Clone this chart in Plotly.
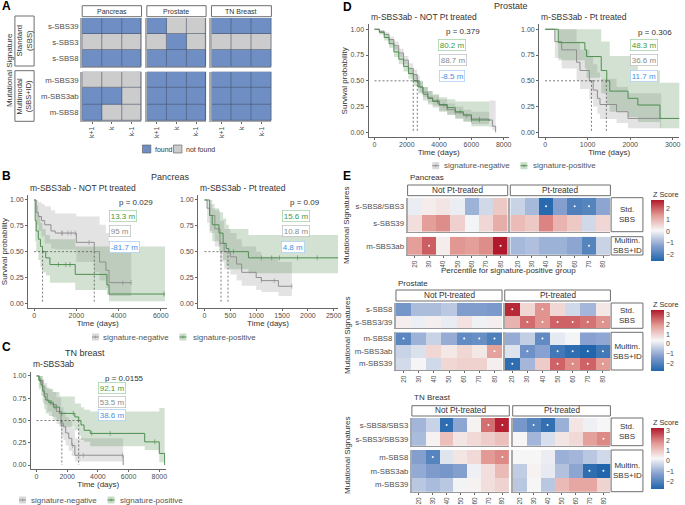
import plotly.graph_objects as go

W, H = 685, 505
FONT = "Liberation Sans"

# ---------- Panel A data ----------
A_COLS = ["k+1", "k", "k-1"]
A_STD_ROWS = ["s-SBS39", "s-SBS3", "s-SBS8"]
A_MM_ROWS = ["m-SBS39", "m-SBS3ab", "m-SBS8"]
A_PAN_STD = [[1, 1, 1], [0, 0, 0], [1, 1, 1]]
A_PRO_STD = [[1, 0, 0], [0, 1, 0], [1, 1, 1]]
A_TNB_STD = [[1, 1, 1], [0, 0, 0], [1, 1, 1]]
A_PAN_MM = [[0, 0, 0], [1, 1, 0], [1, 0, 0]]
A_PRO_MM = [[1, 1, 1], [1, 1, 1], [1, 1, 1]]
A_TNB_MM = [[1, 1, 1], [1, 1, 1], [1, 1, 1]]

# ---------- Survival data ----------
BL_NEG_T = [0, 100, 200, 350, 500, 800, 1000, 2000, 2850, 3100, 3400, 3550, 4600]
BL_NEG_S = [1, .88, .84, .80, .76, .70, .68, .59, .50, .40, .32, .20, .20]
BL_NEG_U = [1, 1, .98, .96, .94, .90, .87, .84, .84, .76, .68, .55, .55]
BL_NEG_L = [1, .76, .70, .65, .58, .53, .52, .40, .30, .22, .15, .07, .05]
BL_NEG_C = [1300, 1350, 1600, 1750, 1950, 2600, 4200, 4600]
BL_POS_T = [0, 50, 100, 200, 300, 400, 550, 750, 1950, 3450, 3550, 6200]
BL_POS_S = [1, .80, .70, .62, .55, .50, .44, .375, .28, .18, .09, .09]
BL_POS_U = [1, 1, .95, .85, .78, .72, .66, .62, .55, .55, .55, .55]
BL_POS_L = [1, .60, .50, .42, .35, .30, .27, .20, .13, .08, .02, .02]
BL_POS_C = [1150, 1500, 1700, 6150]
BL_MED = [400, 2850]

BR_NEG_T = [0, 50, 100, 200, 300, 380, 500, 620, 720, 1000, 1100, 1430, 1690]
BR_NEG_S = [1, .92, .85, .72, .58, .50, .45, .38, .30, .25, .22, .165, .165]
BR_NEG_U = [1, 1, .96, .90, .80, .72, .68, .62, .55, .50, .45, .40, .40]
BR_NEG_L = [1, .78, .68, .55, .40, .33, .28, .22, .17, .13, .11, .07, .07]
BR_NEG_C = [300, 1100, 1350, 1690]
BR_POS_T = [0, 100, 150, 280, 360, 420, 470, 850, 2700]
BR_POS_S = [1, .85, .76, .68, .58, .53, .50, .44, .44]
BR_POS_U = [1, 1, .92, .88, .82, .76, .72, .66, .66]
BR_POS_L = [1, .70, .60, .50, .42, .36, .33, .29, .29]
BR_POS_C = [560, 1100, 1300, 1450, 1800, 2180]
BR_MED = [320, 455]

C_NEG_T = [0, 200, 400, 500, 700, 1000, 1300, 1600, 1750, 1900, 2100, 2300, 2500, 5600, 5650]
C_NEG_S = [1, .95, .88, .80, .72, .68, .60, .47, .43, .36, .30, .22, .11, .11, 0]
C_NEG_U = [1, 1, .97, .92, .86, .82, .76, .65, .60, .54, .50, .42, .30, .30, .30]
C_NEG_L = [1, .88, .78, .68, .60, .54, .46, .32, .28, .22, .16, .10, .04, .04, .04]
C_NEG_C = [1600, 2350, 3050, 5600]
C_POS_T = [0, 150, 300, 400, 500, 600, 800, 1100, 1500, 2500, 2750, 2900, 3100, 3500, 7050, 8000, 8350]
C_POS_S = [1, .95, .90, .83, .77, .73, .70, .65, .58, .54, .50, .45, .39, .355, .26, .13, 0]
C_POS_U = [1, 1, 1, .95, .90, .87, .85, .82, .77, .69, .69, .65, .62, .60, .60, .64, .64]
C_POS_L = [1, .85, .78, .70, .63, .58, .55, .50, .43, .39, .33, .28, .26, .21, .17, .03, .03]
C_POS_C = [250, 900, 1200, 1650, 2400, 3600, 4800, 7700]
C_MED = [1650, 2750]

DL_NEG_T = [0, 300, 600, 900, 1200, 1500, 1800, 2100, 2400, 2640, 2800, 3000, 3300, 3600, 4000, 4500, 5000, 5500, 6000, 7100, 7300, 7500]
DL_NEG_S = [1, .98, .95, .90, .84, .77, .70, .62, .56, .50, .44, .39, .34, .31, .26, .22, .19, .16, .13, .12, .06, 0]
DL_NEG_U = [1, .99, .97, .93, .88, .81, .74, .67, .61, .55, .49, .44, .40, .36, .32, .28, .25, .22, .20, .31, .31, .31]
DL_NEG_L = [1, .97, .93, .87, .80, .73, .66, .57, .51, .45, .39, .34, .29, .26, .21, .17, .14, .11, .08, .05, .02, 0]
DL_NEG_C = [4300, 5000, 5700, 6500]
DL_POS_T = [0, 300, 600, 900, 1200, 1500, 1800, 2100, 2400, 2700, 3000, 3300, 3600, 4000, 4500, 5000, 5500, 6000, 7100]
DL_POS_S = [1, .97, .92, .86, .78, .71, .64, .57, .50, .44, .37, .33, .30, .27, .24, .20, .17, .12, .11]
DL_POS_U = [1, .98, .95, .90, .83, .76, .69, .62, .56, .50, .44, .40, .37, .34, .32, .30, .30, .30, .30]
DL_POS_L = [1, .95, .89, .82, .73, .66, .59, .52, .45, .38, .31, .27, .24, .20, .17, .13, .10, .06, .05]
DL_POS_C = [3900, 4500, 5300, 6000, 6500]
DL_MED = [2400, 2650]

DR_NEG_T = [0, 230, 390, 740, 820, 1040, 1130, 1230, 1290, 1680, 1950, 2730]
DR_NEG_S = [1, .88, .80, .68, .60, .50, .41, .33, .27, .20, .135, .135]
DR_NEG_U = [1, 1, 1, .88, .80, .74, .66, .58, .52, .44, .38, .38]
DR_NEG_L = [1, .72, .62, .50, .42, .32, .25, .18, .13, .09, .04, .04]
DR_NEG_C = []
DR_POS_T = [0, 310, 935, 975, 1320, 1450, 1520, 1950, 2180, 2700, 3200]
DR_POS_S = [1, .87, .80, .735, .60, .50, .40, .33, .265, .135, .135]
DR_POS_U = [1, 1, 1, 1, .88, .88, .74, .74, .60, .48, .48]
DR_POS_L = [1, .70, .62, .53, .38, .27, .20, .15, .10, .04, .04]
DR_POS_C = []
DR_MED = [1090, 1440]

# ---------- Panel E data ----------
PCT = [20, 30, 40, 50, 60, 70, 80]
GROUP_NOT = "Not Pt-treated"
GROUP_PT = "Pt-treated"

PAN_STD_ROWS = ["s-SBS8/SBS3", "s-SBS39"]
PAN_MM_ROWS = ["m-SBS3ab"]
PAN_NOT_STD = [[-.1, .2, .3, -.1, -1.0, -.4, .7], [.4, 1.3, 1.5, .6, 0, .5, 1.1]]
PAN_PT_STD = [[-.5, -.9, -2.5, -1.3, -2.0, -1.9, -1.2], [.9, .7, 1.6, 1.0, .7, -.4, .5]]
PAN_NOT_MM = [[1.3, 2.0, .2, 1.4, 1.3, 1.5, 2.7]]
PAN_PT_MM = [[-.9, -.8, -1.0, -1.0, -1.2, -1.9, -.5]]
PAN_NOT_STD_SIG = [[], []]
PAN_PT_STD_SIG = [[40, 60, 70], []]
PAN_NOT_MM_SIG = [[30, 80]]
PAN_PT_MM_SIG = [[70]]

PRO_STD_ROWS = ["s-SBS8", "s-SBS3/39"]
PRO_MM_ROWS = ["m-SBS8", "m-SBS3ab", "m-SBS39"]
PRO_NOT_STD = [[-1.5, -.7, -.7, -.5, -1.3, -1.3, -1.4], [.5, .2, .5, .15, .7, .25, .5]]
PRO_PT_STD = [[3.3, .9, 2.0, .9, -.2, -.8, .6], [1.5, 2.5, 2.0, 2.6, 2.6, 2.4, 2.0]]
PRO_NOT_MM = [[-1.9, -.9, -.3, -1.0, -1.8, -1.7, -2.1], [-.3, -.05, .9, .6, .9, .6, 1.8], [-.15, .4, -.2, .9, 1.0, 1.0, .5]]
PRO_PT_MM = [[-1.0, -.4, -1.8, .1, .3, -1.2, -1.1], [0, -1.6, -1.2, -2.3, -2.6, -2.8, -2.3], [-2.6, -.8, 1.1, 2.6, 2.1, 2.6, 1.9]]
PRO_NOT_STD_SIG = [[], []]
PRO_PT_STD_SIG = [[20, 40], [30, 40, 50, 60, 70, 80]]
PRO_NOT_MM_SIG = [[20, 60, 70, 80], [80], []]
PRO_PT_MM_SIG = [[40], [30, 50, 60, 70, 80], [20, 50, 60, 70, 80]]

TNB_STD_ROWS = ["s-SBS8/SBS3", "s-SBS3/SBS39"]
TNB_MM_ROWS = ["m-SBS8", "m-SBS3ab", "m-SBS39"]
TNB_NOT_STD = [[-.9, -.4, -2.6, -1.2, .3, 2.2, 3.1], [-.8, .3, 1.1, .5, .7, .9, 1.1]]
TNB_PT_STD = [[-1.5, -2.0, -2.5, -1.0, .5, .1, .2], [.25, -.9, -.2, .5, .7, 1.6, 1.9]]
TNB_NOT_MM = [[-1.3, -2.0, -.1, .5, .7, 1.7, 1.9], [-1.1, -1.4, -1.5, -1.3, .1, .6, 1.2], [-.6, -.8, -.6, .15, .3, .6, .8]]
TNB_PT_MM = [[.2, .2, .05, -1.0, -.9, -.6, -.3], [-.5, .3, 0, -.7, -1.2, -2.6, -2.9], [-.6, .2, -.6, 1.2, 1.5, 1.5, .8]]
TNB_NOT_STD_SIG = [[40, 70, 80], []]
TNB_PT_STD_SIG = [[30, 40], [80]]
TNB_NOT_MM_SIG = [[30, 80], [], []]
TNB_PT_MM_SIG = [[], [70, 80], []]

# ---------- Styles ----------
INK = "#333333"
TICK = "#4d4d4d"
AXIS = "#666666"
BOX = "#6e6e6e"
FOUND = "#6f8fc4"
NOTFOUND = "#cccccc"
GRIDDARK = "#47536b"
NEG_LINE = "#8f8f8f"
POS_LINE = "#4f8f50"
NEG_BAND = "rgba(140,140,140,0.24)"
POS_BAND = "rgba(80,140,80,0.26)"
ZSCALE = [[0, "#2166ac"], [.25, "#86a0cf"], [.5, "#f7f7f7"], [.75, "#e39a94"], [1, "#b2182b"]]

fig = go.Figure()
layout = {}
shapes, notes = [], []
axis_n = [0]


def px(x):
    return x / W


def py(y):
    return 1 - y / H


def text(x, y, s, size=7, color=INK, anchor="center", angle=0, **kw):
    notes.append(dict(xref="paper", yref="paper", x=px(x), y=py(y), text=s, showarrow=False,
                      xanchor=anchor, yanchor="middle", textangle=angle,
                      font=dict(size=size, color=color, family=FONT), **kw))


def box(x0, y0, x1, y1, fill="white", line=BOX, width=1, layer="above"):
    shapes.append(dict(type="rect", xref="paper", yref="paper", x0=px(x0), x1=px(x1), y0=py(y0), y1=py(y1),
                       fillcolor=fill, line=dict(color=line, width=width), layer=layer))


def strip(x0, y0, x1, y1, s, size=7, angle=0):
    box(x0, y0, x1, y1)
    text((x0 + x1) / 2, (y0 + y1) / 2, s, size=size, angle=angle)


def new_axes(x0, y0, x1, y1, xkw, ykw):
    axis_n[0] += 1
    n = axis_n[0]
    sx = "" if n == 1 else str(n)
    layout["xaxis" + sx] = dict(domain=[px(x0), px(x1)], anchor="y" + sx, **xkw)
    layout["yaxis" + sx] = dict(domain=[py(y1), py(y0)], anchor="x" + sx, **ykw)
    return "x" + sx, "y" + sx


def tickfont(size=7, color=TICK):
    return dict(size=size, color=color, family=FONT)


# ---------- Panel A ----------
def found_panel(x0, y0, x1, y1, rows, vals, show_y, show_x):
    box(x0, y0, x1, y1, fill=GRIDDARK, line=GRIDDARK, width=0, layer="below")
    xa, ya = new_axes(
        x0, y0, x1, y1,
        dict(type="category", categoryorder="array", categoryarray=A_COLS, range=[-.5, 2.5],
             showticklabels=show_x, ticks="outside" if show_x else "", ticklen=2, tickangle=-90,
             tickcolor=AXIS, tickfont=tickfont(7), showline=True, linecolor="#aaaaaa", showgrid=False),
        dict(type="category", categoryorder="array", categoryarray=rows, range=[2.5, -.5],
             showticklabels=show_y, ticks="", tickfont=tickfont(7.8), showline=True,
             linecolor="#aaaaaa", linewidth=2, showgrid=False))
    fig.add_trace(go.Heatmap(x=A_COLS, y=rows, z=vals, xaxis=xa, yaxis=ya, zmin=0, zmax=1, showscale=False,
                             colorscale=[[0, NOTFOUND], [1, FOUND]], xgap=.6, ygap=.6))


A_X = [(82.7, 142.3), (147.7, 207.3), (212.7, 273)]
for (xl, xr), s, std, mm in zip(A_X, ["Pancreas", "Prostate", "TN Breast"],
                                [A_PAN_STD, A_PRO_STD, A_TNB_STD], [A_PAN_MM, A_PRO_MM, A_TNB_MM]):
    first = xl < 100
    found_panel(xl, 18, xr, 66.7, A_STD_ROWS, std, first, False)
    found_panel(xl, 71.7, xr, 120.7, A_MM_ROWS, mm, first, True)
    strip(xl, 5.7, xr, 16.7, s, 7)
text(9, 70, "Mutational Signature", 8, angle=-90)
strip(15, 16, 34.3, 66, "Standard<br>(SBS)", 7.8, angle=-90)
strip(15, 70.7, 34.3, 121.3, "Multimodal<br>(SBS+ID)", 7.5, angle=-90)
box(143.3, 145, 151.7, 153, fill=FOUND, line="#555555", width=.6)
text(154, 149, "found", 7, anchor="left")
box(174.5, 145, 183, 153, fill=NOTFOUND, line="#555555", width=.6)
text(185, 149, "not found", 7, anchor="left")


# ---------- Survival panels ----------
def curve_at(ts, ss, t):
    v = ss[0]
    for a, b in zip(ts, ss):
        if a <= t:
            v = b
    return v


def km(rect, xrange, xticks, neg, pos, med, ytitle):
    x0, y0, x1, y1 = rect
    xa, ya = new_axes(
        x0, y0, x1, y1,
        dict(range=xrange, tickvals=xticks, ticks="outside", ticklen=2, tickcolor=AXIS, tickfont=tickfont(),
             ticklabelstandoff=-2, showline=True, linecolor=AXIS, linewidth=1, showgrid=False, zeroline=False,
             title=dict(text="Time (days)", font=tickfont(8, INK), standoff=0)),
        dict(range=[-.048, 1.048], tickvals=[0, .25, .5, .75, 1], tickformat=".2f", ticks="outside", ticklen=2,
             tickcolor=AXIS, tickfont=tickfont(), showline=True, linecolor=AXIS, linewidth=1, showgrid=False,
             zeroline=False, title=dict(text=ytitle, font=tickfont(8, INK), standoff=1)))
    for (t, s, u, l, c), lc, bc in ((neg, NEG_LINE, NEG_BAND), (pos, POS_LINE, POS_BAND)):
        fig.add_trace(go.Scatter(x=t, y=u, mode="lines", line=dict(width=0, shape="hv"), xaxis=xa, yaxis=ya,
                                 showlegend=False, hoverinfo="skip"))
        fig.add_trace(go.Scatter(x=t, y=l, mode="lines", line=dict(width=0, shape="hv"), fill="tonexty",
                                 fillcolor=bc, xaxis=xa, yaxis=ya, showlegend=False, hoverinfo="skip"))
    for (t, s, u, l, c), lc in ((neg, NEG_LINE), (pos, POS_LINE)):
        fig.add_trace(go.Scatter(x=t, y=s, mode="lines", line=dict(width=1, shape="hv", color=lc),
                                 xaxis=xa, yaxis=ya, showlegend=False))
        if c:
            fig.add_trace(go.Scatter(x=c, y=[curve_at(t, s, v) for v in c], mode="markers",
                                     marker=dict(symbol="line-ns", size=3.5, line=dict(width=.6, color=lc)),
                                     xaxis=xa, yaxis=ya, showlegend=False))
    m0, m1 = med
    fig.add_trace(go.Scatter(x=[0, m1, None, m0, m0, None, m1, m1], y=[.5, .5, None, .5, 0, None, .5, 0],
                             mode="lines", line=dict(width=.7, color="#444444", dash="2px,2px"),
                             xaxis=xa, yaxis=ya, showlegend=False))


def labels(pxy, pval, boxes):
    text(pxy[0], pxy[1], pval, 8)
    for (x, y, s), col, edge in zip(boxes, ["#3f9a45", "#8a8a8a", "#4b8fdf"], ["#9ccf9f", "#bbbbbb", "#a6ccf2"]):
        text(x, y, s, 8, color=col, bgcolor="white", bordercolor=edge, borderwidth=.7, borderpad=1)


def km_legend(y, xg, xt1, xg2, xt2):
    for xs, col, band in ((xg, NEG_LINE, "#d9d9d9"), (xg2, POS_LINE, "#c8dcc8")):
        box(xs - 3.5, y - 3.5, xs + 3.5, y + 3.5, fill=band, line=band, width=0)
        shapes.append(dict(type="line", xref="paper", yref="paper", x0=px(xs - 3.5), x1=px(xs + 3.5),
                           y0=py(y), y1=py(y), line=dict(color=col, width=1)))
        shapes.append(dict(type="line", xref="paper", yref="paper", x0=px(xs), x1=px(xs),
                           y0=py(y - 1.5), y1=py(y + 1.5), line=dict(color=col, width=.6)))
    text(xt1, y, "signature-negative", 8, color="#555555", anchor="left")
    text(xt2, y, "signature-positive", 8, color="#555555", anchor="left")


km((28.3, 195, 168.3, 308.3), [-283, 6311], [0, 2000, 4000, 6000],
   (BL_NEG_T, BL_NEG_S, BL_NEG_U, BL_NEG_L, BL_NEG_C), (BL_POS_T, BL_POS_S, BL_POS_U, BL_POS_L, BL_POS_C),
   BL_MED, "Survival probability")
km((199.3, 195, 340, 308.3), [-123, 2583], [0, 500, 1000, 1500, 2000, 2500],
   (BR_NEG_T, BR_NEG_S, BR_NEG_U, BR_NEG_L, BR_NEG_C), (BR_POS_T, BR_POS_S, BR_POS_U, BR_POS_L, BR_POS_C),
   BR_MED, "")
km((31, 371.7, 166.7, 469.3), [-370, 8420], [0, 2000, 4000, 6000, 8000],
   (C_NEG_T, C_NEG_S, C_NEG_U, C_NEG_L, C_NEG_C), (C_POS_T, C_POS_S, C_POS_U, C_POS_L, C_POS_C),
   C_MED, "")
km((370.7, 24.3, 511.7, 137.3), [-370, 8310], [0, 2000, 4000, 6000, 8000],
   (DL_NEG_T, DL_NEG_S, DL_NEG_U, DL_NEG_L, DL_NEG_C), (DL_POS_T, DL_POS_S, DL_POS_U, DL_POS_L, DL_POS_C),
   DL_MED, "Survival probability")
km((542.3, 24.3, 683.3, 137.3), [-140, 3155], [0, 1000, 2000, 3000],
   (DR_NEG_T, DR_NEG_S, DR_NEG_U, DR_NEG_L, DR_NEG_C), (DR_POS_T, DR_POS_S, DR_POS_U, DR_POS_L, DR_POS_C),
   DR_MED, "")

labels((137, 202.7), "p = 0.029", [(124, 216, "13.3 m"), (120.7, 231, "95 m"), (125, 246.7, "-81.7 m")])
labels((307, 202.7), "p = 0.09", [(297.7, 216, "15.6 m"), (297.7, 231, "10.8 m"), (295, 247, "4.8 m")])
labels((125.7, 378), "p = 0.0155", [(113, 388, "92.1 m"), (113, 401.7, "53.5 m"), (113, 415, "38.6 m")])
labels((466, 31.7), "p = 0.379", [(455, 45, "80.2 m"), (456, 60, "88.7 m"), (455, 75.7, "-8.5 m")])
labels((659, 32), "p = 0.306", [(648, 45, "48.3 m"), (648, 60, "36.6 m"), (648, 76, "11.7 m")])

text(171.7, 177, "Pancreas", 9)
text(27.7, 187.7, "m-SBS3ab - NOT Pt treated", 8.5, anchor="left")
text(199.3, 187.7, "m-SBS3ab - Pt treated", 8.5, anchor="left")
text(86, 353, "TN breast", 9)
text(31, 364.3, "m-SBS3ab", 8.5, anchor="left")
text(514, 6, "Prostate", 9)
text(371, 16.7, "m-SBS3ab - NOT Pt treated", 8.5, anchor="left")
text(542, 16.7, "m-SBS3ab - Pt treated", 8.5, anchor="left")

km_legend(337, 96, 102, 184, 192)
km_legend(500, 22.7, 29.3, 111.7, 118.7)
km_legend(165.7, 438.3, 445, 527, 534)

for s, x, y in (("A", 0, 6), ("B", 0, 176), ("C", 0, 347), ("D", 343, 7), ("E", 343, 176)):
    text(x, y, "<b>%s</b>" % s, 12, color="black", anchor="left")


# ---------- Panel E ----------
def z_panel(x0, y0, x1, y1, rows, vals, sig, zr, show_y, show_x, bar=None):
    xa, ya = new_axes(
        x0, y0, x1, y1,
        dict(range=[15, 85], tickvals=PCT, showticklabels=show_x, ticks="outside" if show_x else "", ticklen=2,
             tickangle=-90, tickcolor=AXIS, tickfont=tickfont(6.5), showline=True, linecolor="#999999",
             showgrid=False, zeroline=False),
        dict(type="category", categoryorder="array", categoryarray=rows, range=[len(rows) - .5, -.5],
             showticklabels=show_y, ticks="", tickfont=tickfont(7.8), showline=True, linecolor="#aaaaaa",
             linewidth=2, showgrid=False))
    kw = dict(showscale=False)
    if bar:
        kw = dict(showscale=True, colorbar=dict(
            x=px(655), xanchor="left", y=py(bar[1]), yanchor="bottom", len=bar[1] - bar[0], lenmode="pixels",
            thickness=13.3, thicknessmode="pixels", xpad=0, ypad=0, outlinewidth=0, ticks="", ticklen=0,
            tickvals=bar[2], tickfont=tickfont(7), ticklabelposition="outside"))
        text(655, bar[0] - 6, "Z Score", 7.3, anchor="left")
    fig.add_trace(go.Heatmap(x=PCT, y=rows, z=vals, xaxis=xa, yaxis=ya, zmin=zr[0], zmax=zr[1],
                             colorscale=ZSCALE, **kw))
    sx, sy = [], []
    for r, cols in zip(rows, sig):
        for c in cols:
            sx.append(c)
            sy.append(r)
    if sx:
        fig.add_trace(go.Scatter(x=sx, y=sy, mode="markers", marker=dict(color="white", size=2),
                                 xaxis=xa, yaxis=ya, showlegend=False, hoverinfo="skip"))


def z_group(title, tx, ty, xl, xr, strip_y, b1, b2, rows1, rows2, data, sig, zr, bar, ylab_y, stdh, mmh):
    z_panel(xl[0], b1[0], xl[1], b1[1], rows1, data[0], sig[0], zr, True, False, bar)
    z_panel(xr[0], b1[0], xr[1], b1[1], rows1, data[1], sig[1], zr, False, False)
    z_panel(xl[0], b2[0], xl[1], b2[1], rows2, data[2], sig[2], zr, True, True)
    z_panel(xr[0], b2[0], xr[1], b2[1], rows2, data[3], sig[3], zr, False, True)
    strip(xl[0], strip_y[0], xl[1], strip_y[1], GROUP_NOT, 8.2)
    strip(xr[0], strip_y[0], xr[1], strip_y[1], GROUP_PT, 8.2)
    strip(614.7, b1[0], 646.7, b1[1], stdh, 8)
    strip(614.7, b2[0], 646.7, b2[1], mmh, 8)
    text(tx, ty, title, 8, anchor="left")
    text(349, ylab_y, "Mutational Signatures", 8, angle=-90)


z_group("Pancreas", 410, 177.7, (410, 510.7), (513.3, 614), (185, 195.7), (197.7, 231.7), (236.7, 255),
        PAN_STD_ROWS, PAN_MM_ROWS, [PAN_NOT_STD, PAN_PT_STD, PAN_NOT_MM, PAN_PT_MM],
        [PAN_NOT_STD_SIG, PAN_PT_STD_SIG, PAN_NOT_MM_SIG, PAN_PT_MM_SIG], (-2.6, 2.7),
        (200, 261, [-2, -1, 0, 1, 2]), 225, "Std.<br>SBS", "Multim.<br>SBS+ID")
z_group("Prostate", 398, 283, (398.3, 505), (507.7, 614), (290, 301), (303, 328.3), (332.3, 370),
        PRO_STD_ROWS, PRO_MM_ROWS, [PRO_NOT_STD, PRO_PT_STD, PRO_NOT_MM, PRO_PT_MM],
        [PRO_NOT_STD_SIG, PRO_PT_STD_SIG, PRO_NOT_MM_SIG, PRO_PT_MM_SIG], (-2.8, 3.5),
        (310, 371, [-2, -1, 0, 1, 2, 3]), 335, "Std.<br>SBS", "Multim.<br>SBS+ID")
z_group("TN Breast", 414, 397.7, (414.3, 512.3), (515.7, 614), (405.7, 416), (418, 445.7), (450, 491.7),
        TNB_STD_ROWS, TNB_MM_ROWS, [TNB_NOT_STD, TNB_PT_STD, TNB_NOT_MM, TNB_PT_MM],
        [TNB_NOT_STD_SIG, TNB_PT_STD_SIG, TNB_NOT_MM_SIG, TNB_PT_MM_SIG], (-2.77, 3.2),
        (428.3, 489.3, [-2, -1, 0, 1, 2, 3]), 455, "Std.<br>SBS", "Multim.<br>SBS+ID")
text(511.7, 270.3, "Percentile for signature-positive group", 8)

fig.update_layout(width=W, height=H, margin=dict(l=0, r=0, t=0, b=0), paper_bgcolor="white",
                  plot_bgcolor="rgba(0,0,0,0)", showlegend=False, font=dict(family=FONT, size=7, color=INK),
                  shapes=shapes, annotations=notes, **layout)
fig.write_html("out.html", post_script="document.body.style.margin='0';", config={"displayModeBar": False})
